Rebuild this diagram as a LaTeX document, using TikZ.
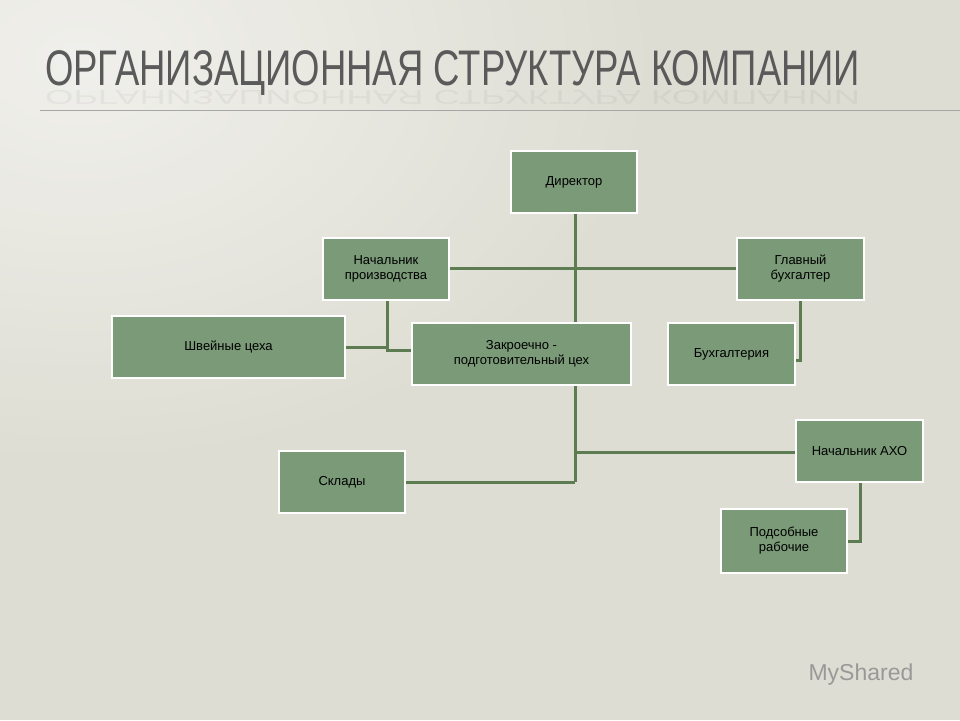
\documentclass[tikz,border=0pt]{standalone}
\usepackage{fontspec}
\setmainfont{Liberation Sans}
\definecolor{bx}{HTML}{7A9A78}
\definecolor{ln}{HTML}{5E7C52}
\definecolor{bg}{HTML}{DEDDD3}
\definecolor{tt}{HTML}{5A5A5A}
\begin{document}
\begin{tikzpicture}[x=1pt,y=-1pt,
 box/.style={draw=white,line width=2pt,fill=bx,align=center,font=\fontsize{13}{15}\selectfont,inner sep=2pt},
 conn/.style={draw=ln,line width=3pt}]
\useasboundingbox (0,0) rectangle (960,720);
\fill[bg] (0,0) rectangle (960,720);
\begin{scope}
\clip (0,0) rectangle (960,720);
\shade[inner color=white!70!bg,outer color=bg,opacity=0.8] (80,60) ellipse (600 and 420);
\end{scope}
\draw[gray!70,line width=0.8pt] (40,110) -- (960,110);
\node[anchor=base west,text=tt,font=\fontsize{50}{50}\selectfont,xscale=0.73,inner sep=0] (title) at (45,85) {ОРГАНИЗАЦИОННАЯ СТРУКТУРА КОМПАНИИ};
\node[anchor=base west,text=tt,opacity=0.07,font=\fontsize{50}{50}\selectfont,xscale=0.73,yscale=-0.4,inner sep=0] (refl) at (45,90) {ОРГАНИЗАЦИОННАЯ СТРУКТУРА КОМПАНИИ};
% connectors
\coordinate (v1) at (575,213); \coordinate (v2) at (575,482);
\coordinate (h1) at (449,268); \coordinate (h2) at (737,268);
\draw[conn] (v1) -- (v2);
\draw[conn] (h1) -- (h2);
\draw[conn] (387,300) -- (387,350) -- (412,350);
\draw[conn] (345,347) -- (387,347);
\draw[conn] (800,300) -- (800,360) -- (795,360);
\draw[conn] (575,452) -- (796,452);
\draw[conn] (405,482) -- (575,482);
\draw[conn] (860,482) -- (860,541) -- (847,541);
% boxes
\node[box,minimum width=126,minimum height=62] (dir) at (574,182) {Директор};
\node[box,minimum width=126,minimum height=62] (np) at (386,269) {Начальник\\производства};
\node[box,minimum width=127,minimum height=62] (gb) at (800.5,269) {Главный\\бухгалтер};
\node[box,minimum width=233,minimum height=62] (sh) at (228.5,347) {Швейные цеха};
\node[box,minimum width=219,minimum height=62] (zc) at (521.5,354) {Закроечно -\\подготовительный цех};
\node[box,minimum width=127,minimum height=62] (bu) at (731.5,354) {Бухгалтерия};
\node[box,minimum width=126,minimum height=62] (sk) at (342,482) {Склады};
\node[box,minimum width=127,minimum height=62] (aho) at (859.5,451) {Начальник АХО};
\node[box,minimum width=126,minimum height=64] (pr) at (784,541) {Подсобные\\рабочие};
\node[text=gray!80,font=\fontsize{23}{23}\selectfont,anchor=west] (ms) at (805,675) {MyShared};
\end{tikzpicture}
\end{document}
